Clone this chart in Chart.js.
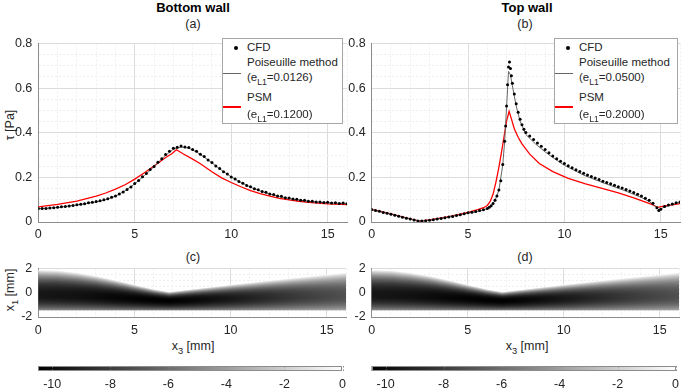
<!DOCTYPE html>
<html>
<head>
<meta charset="utf-8">
<script src="https://cdn.jsdelivr.net/npm/chart.js@4.4.1/dist/chart.umd.min.js"></script>
<style>
  body { margin: 0; width: 685px; height: 391px; background: #fff; position: relative; overflow: hidden;
         font-family: "Liberation Sans", Arial, sans-serif; color: #262626; }
  canvas { position: absolute; }
  .lbl { position: absolute; white-space: nowrap; line-height: 1; font-size: 12.5px; transform: translate(-50%, -50%); }
  .rot { transform: translate(-50%, -50%) rotate(-90deg); }
  .ttl { font-weight: bold; font-size: 13px; color: #000; }
  .leg { position: absolute; background: #fff; border: 1px solid #a6a6a6; box-sizing: border-box; }
  .leg span { position: absolute; white-space: nowrap; font-size: 11.5px; line-height: 1; transform: translateY(-50%); }
  .leg i { position: absolute; display: block; }
  sub { font-size: 0.75em; vertical-align: -0.4em; line-height: 0; }
</style>
</head>
<body>

<div class="lbl ttl" style="left:193px;top:7px">Bottom wall</div>
<div class="lbl" style="left:193px;top:24px">(a)</div>
<div class="lbl ttl" style="left:527px;top:7px">Top wall</div>
<div class="lbl" style="left:525px;top:24px">(b)</div>
<div class="lbl rot" style="left:10px;top:125px">τ [Pa]</div>
<div class="lbl" style="left:193px;top:257px">(c)</div>
<div class="lbl" style="left:525px;top:257px">(d)</div>
<div class="lbl rot" style="left:10px;top:290px">x<sub>1</sub> [mm]</div>
<div class="lbl" style="left:193px;top:346px">x<sub>3</sub> [mm]</div>
<div class="lbl" style="left:527px;top:346px">x<sub>3</sub> [mm]</div>

<script>
// ---- data ----
const cfdAX = [0,0.2,0.4,0.6,0.8,1,1.2,1.4,1.6,1.8,2,2.2,2.4,2.6,2.8,3,3.2,3.4,3.6,3.8,4,4.2,4.4,4.6,4.8,5,5.2,5.4,5.6,5.8,6,6.2,6.4,6.6,6.8,7,7.2,7.4,7.6,7.8,8,8.2,8.4,8.6,8.8,9,9.2,9.4,9.6,9.8,10,10.2,10.4,10.6,10.8,11,11.2,11.4,11.6,11.8,12,12.2,12.4,12.6,12.8,13,13.2,13.4,13.6,13.8,14,14.2,14.4,14.6,14.8,15,15.2,15.4,15.6,15.8,16];
const cfdAY = [0.060,0.061,0.061,0.063,0.064,0.066,0.068,0.069,0.072,0.074,0.077,0.079,0.082,0.086,0.088,0.092,0.095,0.100,0.104,0.111,0.117,0.126,0.134,0.146,0.157,0.173,0.186,0.203,0.217,0.235,0.249,0.268,0.284,0.303,0.317,0.330,0.335,0.341,0.336,0.334,0.325,0.317,0.304,0.293,0.278,0.267,0.251,0.240,0.225,0.215,0.202,0.193,0.181,0.174,0.164,0.158,0.149,0.145,0.137,0.133,0.126,0.123,0.117,0.115,0.109,0.108,0.103,0.102,0.098,0.098,0.093,0.093,0.090,0.090,0.087,0.088,0.085,0.086,0.083,0.085,0.082];
const poisAX = [0,1,2,3,3.5,4,4.5,5,5.5,6,6.5,7,7.4,7.8,8.2,8.6,9,9.5,10,10.5,11,11.5,12,12.5,13,13.5,14,14.5,15,15.5,16];
const poisAY = [0.059,0.065,0.076,0.090,0.100,0.116,0.140,0.171,0.208,0.248,0.292,0.326,0.336,0.331,0.314,0.291,0.265,0.232,0.202,0.177,0.156,0.139,0.125,0.114,0.105,0.098,0.093,0.089,0.086,0.084,0.083];
const psmAX = [0,1,2,3,3.5,4,4.5,5,5.5,6,6.3,6.6,6.9,7.16,7.5,8,8.4,9,9.5,10,10.5,11,11.5,12,12.5,13,13.5,14,15,16];
const psmAY = [0.068,0.079,0.094,0.116,0.130,0.147,0.167,0.192,0.221,0.251,0.270,0.289,0.305,0.324,0.306,0.282,0.261,0.225,0.198,0.177,0.158,0.141,0.127,0.116,0.106,0.099,0.093,0.088,0.081,0.078];

const cfdBX = [0,0.2,0.4,0.6,0.8,1,1.2,1.4,1.6,1.8,2,2.2,2.4,2.6,2.8,3,3.2,3.4,3.6,3.8,4,4.2,4.4,4.6,4.8,5,5.2,5.4,5.6,5.8,6,6.1,6.2,6.3,6.4,6.5,6.6,6.7,6.8,6.9,6.95,7,7.05,7.1,7.15,7.2,7.25,7.3,7.4,7.5,7.6,7.7,7.8,7.9,8,8.2,8.4,8.6,8.8,9,9.2,9.4,9.6,9.8,10,10.2,10.4,10.6,10.8,11,11.2,11.4,11.6,11.8,12,12.2,12.4,12.6,12.8,13,13.2,13.4,13.6,13.8,14,14.2,14.4,14.6,14.8,14.9,15,15.2,15.4,15.6,15.8,16];
const cfdBY = [0.056,0.052,0.048,0.043,0.039,0.035,0.030,0.026,0.021,0.017,0.013,0.009,0.005,0.004,0.006,0.008,0.010,0.013,0.016,0.019,0.022,0.025,0.029,0.033,0.037,0.041,0.044,0.047,0.051,0.055,0.061,0.066,0.073,0.083,0.097,0.117,0.143,0.185,0.258,0.362,0.430,0.520,0.615,0.695,0.717,0.688,0.655,0.622,0.574,0.530,0.492,0.461,0.436,0.416,0.401,0.385,0.370,0.354,0.339,0.325,0.310,0.296,0.283,0.272,0.262,0.252,0.243,0.234,0.226,0.218,0.211,0.204,0.197,0.190,0.183,0.177,0.171,0.165,0.158,0.152,0.146,0.139,0.132,0.124,0.116,0.107,0.097,0.084,0.064,0.052,0.057,0.069,0.076,0.081,0.086,0.090];
const poisBX = [0,1,2,2.5,3,4,5,5.5,6,6.2,6.4,6.6,6.8,6.9,7,7.1,7.2,7.3,7.5,7.7,8,8.5,9,9.5,10,11,12,13,14,14.4,14.7,14.9,15.2,15.6,16];
const poisBY = [0.055,0.035,0.013,0.004,0.008,0.022,0.040,0.047,0.060,0.072,0.096,0.142,0.255,0.360,0.515,0.675,0.660,0.610,0.520,0.452,0.392,0.350,0.314,0.283,0.254,0.210,0.176,0.145,0.110,0.092,0.072,0.055,0.067,0.079,0.088];
const psmBX = [0,1,2,2.5,3,4,5,5.5,5.8,6,6.15,6.3,6.45,6.6,6.75,6.9,7,7.13,7.25,7.4,7.6,7.8,8.2,8.7,9.4,10.2,11.1,12,12.8,13.6,14.5,14.85,15.2,15.6,16];
const psmBY = [0.057,0.036,0.014,0.004,0.009,0.024,0.043,0.055,0.064,0.074,0.092,0.125,0.180,0.245,0.320,0.400,0.452,0.496,0.462,0.418,0.380,0.350,0.304,0.262,0.226,0.196,0.171,0.150,0.130,0.108,0.080,0.066,0.072,0.077,0.082];

// channel shading (panels c, d): walls, position and value of the darkest core
const chanX = [0,1,2,3,4,5,6,6.8,8,10,12,14,16];
const chanTop = [1.9,1.85,1.67,1.4,1.05,0.67,0.3,0.08,0.3,0.67,1.02,1.35,1.68];
const chanBottom = [-1.45,-1.45,-1.45,-1.45,-1.45,-1.45,-1.45,-1.45,-1.45,-1.45,-1.45,-1.45,-1.45];
const coreX1 = [-0.25,-0.27,-0.3,-0.35,-0.42,-0.5,-0.6,-0.66,-0.6,-0.5,-0.42,-0.36,-0.32];
const coreVal = [-9.6,-9.7,-9.8,-10.0,-10.2,-10.35,-10.45,-10.48,-10.2,-9.5,-8.7,-7.9,-7.2];

const cbMin = -10.48;
const cbTicks = [-10,-8,-6,-4,-2,0];

const legendA = { pois: '0.0126', psm: '0.1200' };
const legendB = { pois: '0.0500', psm: '0.2000' };

// ---- helpers ----
Chart.defaults.font.family = '"Liberation Sans", Arial, sans-serif';
Chart.defaults.font.size = 12.5;
Chart.defaults.color = '#262626';
Chart.defaults.animation = false;

const pts = (xs, ys) => xs.map((x, i) => ({ x, y: ys[i] }));
const isMult = (v, m) => Math.abs(v / m - Math.round(v / m)) < 1e-6;
const fmt = v => String(Math.round(v * 1000) / 1000);

function interp(xs, ys, x) {
  if (x <= xs[0]) return ys[0];
  for (let i = 1; i < xs.length; i++) {
    if (x <= xs[i]) {
      const t = (x - xs[i - 1]) / (xs[i] - xs[i - 1]);
      return ys[i - 1] + t * (ys[i] - ys[i - 1]);
    }
  }
  return ys[ys.length - 1];
}

function makeCanvas(left, top, w, h) {
  const c = document.createElement('canvas');
  c.width = w; c.height = h;
  c.style.left = left + 'px'; c.style.top = top + 'px';
  c.style.width = w + 'px'; c.style.height = h + 'px';
  document.body.appendChild(c);
  return c;
}

function axis(min, max, step, major, pad, size, horizontal) {
  return {
    type: 'linear', min, max,
    ticks: {
      stepSize: step, autoSkip: false, maxRotation: 0, padding: pad, includeBounds: false,
      callback: v => (isMult(v, major) ? fmt(v) : '')
    },
    grid: {
      drawTicks: false, lineWidth: 1,
      color: c => (c.tick && isMult(c.tick.value, major) ? '#dcdcdc' : '#efefef')
    },
    border: {
      color: '#8c8c8c',
      dash: c => (c.tick && !isMult(c.tick.value, major) ? [2, 2] : [])
    },
    afterFit: s => { if (horizontal) s.height = size; else s.width = size; }
  };
}

function tauChart(left, w, L, R, cx, cy, px, py, sx, sy) {
  new Chart(makeCanvas(left, 30, w, 212), {
    type: 'line',
    data: {
      datasets: [
        { label: 'CFD', data: pts(cx, cy), showLine: false, pointRadius: 1.5, pointBorderWidth: 0,
          pointBackgroundColor: '#000', order: 0 },
        { label: 'Poiseuille method', data: pts(px, py), borderColor: '#666', borderWidth: 1,
          pointRadius: 0, tension: 0, order: 1 },
        { label: 'PSM', data: pts(sx, sy), borderColor: '#ff0000', borderWidth: 1.3,
          pointRadius: 0, tension: 0, order: 2 }
      ]
    },
    options: {
      responsive: false, events: [],
      layout: { padding: { top: 3, right: R, left: 0, bottom: 0 } },
      plugins: { legend: { display: false }, tooltip: { enabled: false } },
      scales: {
        x: axis(0, 16, 1, 5, 5, 20, true),
        y: axis(0, 0.8, 0.05, 0.2, 6, L, false)
      }
    }
  });
}

const channelField = {
  id: 'channelField',
  beforeDatasetsDraw(chart) {
    const { ctx, chartArea: a, scales: { x, y } } = chart;
    const N = 30;
    ctx.save();
    ctx.beginPath(); ctx.rect(a.left, a.top, a.width, a.height); ctx.clip();
    for (let p = Math.floor(a.left); p < a.right; p++) {
      const x3 = x.getValueForPixel(p + 0.5);
      const top = interp(chanX, chanTop, x3);
      const bot = interp(chanX, chanBottom, x3);
      const core = interp(chanX, coreX1, x3);
      const val = interp(chanX, coreVal, x3);
      const yt = y.getPixelForValue(top), yb = y.getPixelForValue(bot);
      const g = ctx.createLinearGradient(0, yb, 0, yt);
      for (let k = 0; k <= N; k++) {
        const x1 = bot + (top - bot) * k / N;
        let f;
        if (x1 <= core) { const u = (core - x1) / (core - bot); f = 1 - 0.5 * u * u; }
        else { const u = (x1 - core) / (top - core); f = Math.max(0, 1 - Math.pow(u, 2.4)); }
        const gray = Math.round(255 * (1 - (-val * f) / -cbMin));
        g.addColorStop(k / N, `rgb(${gray},${gray},${gray})`);
      }
      ctx.fillStyle = g;
      ctx.fillRect(p, yt, 1, yb - yt);
    }
    ctx.restore();
  }
};

function fieldChart(left, w, L, R) {
  new Chart(makeCanvas(left, 255, w, 85), {
    type: 'line',
    data: { datasets: [] },
    options: {
      responsive: false, events: [],
      layout: { padding: { top: 10.5, right: R, left: 0, bottom: 0 } },
      plugins: { legend: { display: false }, tooltip: { enabled: false } },
      scales: {
        x: axis(0, 16, 1, 5, 6, 23, true),
        y: axis(-2, 2, 0.5, 2, 6, L, false)
      }
    },
    plugins: [channelField]
  });
}

const colorBar = {
  id: 'colorBar',
  beforeDatasetsDraw(chart) {
    const { ctx, chartArea: a, scales: { x } } = chart;
    const g = ctx.createLinearGradient(x.getPixelForValue(cbMin), 0, x.getPixelForValue(0), 0);
    g.addColorStop(0, '#000');
    g.addColorStop(1, '#fff');
    ctx.save();
    ctx.fillStyle = g;
    ctx.fillRect(a.left, a.top, a.width, a.height);
    ctx.strokeStyle = '#8c8c8c';
    ctx.lineWidth = 1;
    ctx.strokeRect(Math.round(a.left) + 0.5, Math.round(a.top) + 0.5, Math.round(a.width) - 1, Math.round(a.height) - 1);
    cbTicks.forEach(v => {
      const px = Math.round(x.getPixelForValue(v)) + 0.5;
      ctx.beginPath();
      ctx.moveTo(px, a.top); ctx.lineTo(px, a.top + 1.5);
      ctx.moveTo(px, a.bottom); ctx.lineTo(px, a.bottom - 1.5);
      ctx.stroke();
    });
    ctx.restore();
  }
};

function barChart(left, w, L, R) {
  new Chart(makeCanvas(left, 358, w, 33), {
    type: 'scatter',
    data: { datasets: [] },
    options: {
      responsive: false, events: [],
      layout: { padding: { top: 8, right: R, left: L, bottom: 0 } },
      plugins: { legend: { display: false }, tooltip: { enabled: false } },
      scales: {
        x: {
          type: 'linear', min: cbMin, max: 0,
          ticks: { stepSize: 2, includeBounds: false, padding: 6, autoSkip: false, maxRotation: 0,
                   callback: v => (cbTicks.includes(v) ? String(v) : '') },
          grid: { display: false, drawTicks: false },
          border: { display: false },
          afterFit: s => { s.height = 20; }
        },
        y: { display: false, min: 0, max: 1 }
      }
    },
    plugins: [colorBar]
  });
}

function legendBox(left, width, vals) {
  const d = document.createElement('div');
  d.className = 'leg';
  d.style.left = left + 'px'; d.style.top = '38px';
  d.style.width = width + 'px'; d.style.height = '86px';
  d.innerHTML =
    '<i style="left:11px;top:6.5px;width:4px;height:4px;border-radius:50%;background:#000"></i>' +
    '<span style="left:24px;top:9px">CFD</span>' +
    '<span style="left:24px;top:23.5px">Poiseuille method</span>' +
    '<i style="left:0px;top:33.5px;width:18px;height:1px;background:#666"></i>' +
    '<span style="left:24px;top:38.5px">(e<sub>L1</sub>=' + vals.pois + ')</span>' +
    '<span style="left:24px;top:58.5px">PSM</span>' +
    '<i style="left:0px;top:67px;width:18px;height:1.5px;background:#ff0000"></i>' +
    '<span style="left:24px;top:76px">(e<sub>L1</sub>=' + vals.psm + ')</span>';
  document.body.appendChild(d);
}

tauChart(0, 352, 38.3, 4.3, cfdAX, cfdAY, poisAX, poisAY, psmAX, psmAY);
tauChart(340, 345, 31.7, 3, cfdBX, cfdBY, poisBX, poisBY, psmBX, psmBY);
fieldChart(0, 352, 38.3, 4.3);
fieldChart(340, 345, 31.7, 3);
barChart(0, 352, 38.3, 7);
barChart(340, 345, 31.7, 5);
legendBox(222, 121, legendA);
legendBox(554, 124, legendB);
</script>
</body>
</html>
